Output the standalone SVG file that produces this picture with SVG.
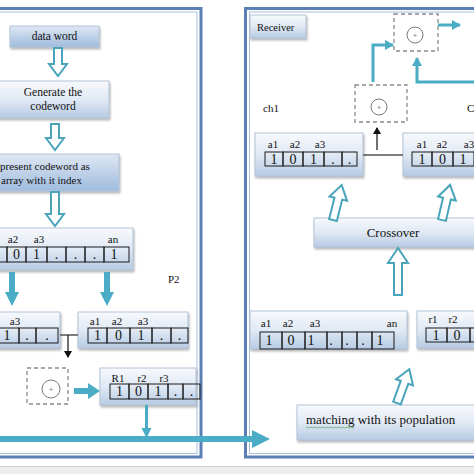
<svg xmlns="http://www.w3.org/2000/svg" width="474" height="474" viewBox="0 0 474 474">
<style>
.box{fill:url(#g);stroke:#b4c4da;stroke-width:1;filter:url(#sh)}
.boxd{fill:url(#g2);stroke:#b4c4da;stroke-width:1;filter:url(#sh)}
.t{font-family:"Liberation Serif",serif;fill:#111}
.lab{font-family:"Liberation Serif",serif;font-size:11px;fill:#111;text-anchor:middle}
.dig{font-family:"Liberation Serif",serif;font-size:14px;fill:#111;text-anchor:middle}
.cell{fill:none;stroke:#1a1a1a;stroke-width:1}
.hol{fill:#fff;stroke:#4aa5bb;stroke-width:2;stroke-linejoin:miter}
.sol{fill:#4bacc6}
.tl{fill:none;stroke:#4bacc6;stroke-width:3}
.dash{fill:none;stroke:#8a8a8a;stroke-width:1.3;stroke-dasharray:4 3}
.circ{fill:none;stroke:#7a7a7a;stroke-width:1}
.plus{font-family:"Liberation Sans",sans-serif;font-size:8px;fill:#888;text-anchor:middle}
.gl{stroke:#555;stroke-width:1.5;fill:none}
.bl{stroke:#111;stroke-width:1.2;fill:none}
</style>
<defs>
<linearGradient id="g" x1="0" y1="0" x2="0" y2="1"><stop offset="0" stop-color="#f7f9fc"/><stop offset="0.5" stop-color="#e1e9f4"/><stop offset="1" stop-color="#b6cbe4"/></linearGradient>
<linearGradient id="g2" x1="0" y1="0" x2="0" y2="1"><stop offset="0" stop-color="#dfe8f4"/><stop offset="1" stop-color="#9fbbdd"/></linearGradient>
<filter id="sh" x="-10%" y="-10%" width="120%" height="130%"><feDropShadow dx="1" dy="2" stdDeviation="1" flood-color="#888" flood-opacity="0.6"/></filter>
<marker id="ab" markerWidth="8" markerHeight="8" refX="6" refY="4" orient="auto" markerUnits="userSpaceOnUse"><path d="M0,0 L7,4 L0,8 Z" fill="#111"/></marker>
<marker id="at" markerWidth="10" markerHeight="10" refX="8" refY="5" orient="auto" markerUnits="userSpaceOnUse"><path d="M0,0 L9,5 L0,10 Z" fill="#4bacc6"/></marker>
<polygon id="up" points="-4,0 4,0 4,-22 9,-22 0,-36 -9,-22 -4,-22"/>
</defs>
<rect width="474" height="474" fill="#fff"/>
<rect x="0" y="466" width="474" height="8" fill="#eeeeee"/>
<line x1="0" y1="466.5" x2="474" y2="466.5" stroke="#cfcfcf"/>

<g id="panel-left">
<rect x="-10" y="8.5" width="211" height="448.5" fill="none" stroke="#5a7fb5" stroke-width="3"/>
<rect x="-10" y="12" width="207" height="441.5" fill="none" stroke="#a9bfdc" stroke-width="1"/>
</g>
<g id="panel-right">
<rect x="245.5" y="8.5" width="240" height="448.5" fill="none" stroke="#5a7fb5" stroke-width="3"/>
<rect x="249.5" y="12" width="240" height="441.5" fill="none" stroke="#a9bfdc" stroke-width="1"/>
</g>

<g id="data-word"><rect class="boxd" x="10" y="26" width="89" height="21"/><text class="t" x="54.5" y="40" font-size="11.5" text-anchor="middle">data word</text></g>
<g id="generate"><rect class="box" x="-2" y="81" width="111" height="37"/><text class="t" x="53" y="96" font-size="11.5" text-anchor="middle">Generate the</text><text class="t" x="53" y="110" font-size="11.5" text-anchor="middle">codeword</text></g>
<g id="represent"><rect class="boxd" x="-2" y="154" width="121" height="37"/><text class="t" x="0" y="170" font-size="11">present codeword as</text><text class="t" x="1" y="184" font-size="11">array with it index</text></g>

<g id="array-main"><rect class="box" x="-5" y="228" width="138" height="42"/>
<text class="lab" x="13" y="243">a2</text><text class="lab" x="39" y="243">a3</text><text class="lab" x="113" y="243">an</text>
<rect class="cell" x="-12" y="247" width="19" height="15"/><rect class="cell" x="7" y="247" width="19" height="15"/><rect class="cell" x="26" y="247" width="21" height="15"/><rect class="cell" x="47" y="247" width="19" height="15"/><rect class="cell" x="66" y="247" width="19" height="15"/><rect class="cell" x="85" y="247" width="19" height="15"/><rect class="cell" x="104" y="247" width="25" height="15"/>
<text class="dig" x="16.5" y="259">0</text><text class="dig" x="36.5" y="259">1</text><text class="dig" x="56.5" y="259">.</text><text class="dig" x="75.5" y="259">.</text><text class="dig" x="94.5" y="259">.</text><text class="dig" x="114" y="259">1</text></g>

<text class="t" x="168" y="283" font-size="11">P2</text>

<g id="array-left"><rect class="box" x="-5" y="312" width="65" height="36"/>
<text class="lab" x="15" y="325">a3</text>
<rect class="cell" x="-2" y="328" width="21" height="15"/><rect class="cell" x="19" y="328" width="17" height="15"/><rect class="cell" x="36" y="328" width="22" height="15"/>
<text class="dig" x="7" y="340">1</text><text class="dig" x="27" y="340">.</text><text class="dig" x="47" y="340">.</text></g>

<g id="array-right"><rect class="box" x="78" y="312" width="110" height="36"/>
<text class="lab" x="95" y="325">a1</text><text class="lab" x="117" y="325">a2</text><text class="lab" x="143" y="325">a3</text>
<rect class="cell" x="88" y="328" width="19" height="15"/><rect class="cell" x="107" y="328" width="23" height="15"/><rect class="cell" x="130" y="328" width="22" height="15"/><rect class="cell" x="152" y="328" width="19" height="15"/><rect class="cell" x="171" y="328" width="17" height="15"/>
<text class="dig" x="97.5" y="340">1</text><text class="dig" x="118.5" y="340">0</text><text class="dig" x="141" y="340">1</text><text class="dig" x="161.5" y="340">.</text><text class="dig" x="179.5" y="340">.</text></g>

<g id="xor-left"><rect class="dash" x="27" y="368" width="41" height="36"/><circle class="circ" cx="51" cy="389" r="9"/><text class="plus" x="51" y="392">+</text></g>

<g id="array-r"><rect class="box" x="100" y="368" width="96" height="37"/>
<text class="lab" x="118" y="382">R1</text><text class="lab" x="142" y="382">r2</text><text class="lab" x="164" y="382">r3</text>
<rect class="cell" x="110" y="384" width="19" height="15"/><rect class="cell" x="129" y="384" width="19" height="15"/><rect class="cell" x="148" y="384" width="20" height="15"/><rect class="cell" x="168" y="384" width="15" height="15"/><rect class="cell" x="183" y="384" width="17" height="15"/>
<text class="dig" x="119.5" y="396">1</text><text class="dig" x="138.5" y="396">0</text><text class="dig" x="158" y="396">1</text><text class="dig" x="175.5" y="396">.</text><text class="dig" x="191.5" y="396">.</text></g>

<g id="receiver"><rect class="box" x="250" y="15" width="56" height="23"/><text class="t" x="257" y="31" font-size="10.5">Receiver</text></g>
<g id="xor-top"><rect class="dash" x="394" y="14" width="44" height="37"/><circle class="circ" cx="415" cy="35" r="8"/><text class="plus" x="415" y="38">+</text></g>
<g id="xor-mid"><rect class="dash" x="355" y="85" width="52" height="37"/><circle class="circ" cx="379" cy="107" r="8"/><text class="plus" x="379" y="110">+</text></g>
<text class="t" x="263" y="112" font-size="11">ch1</text>
<text class="t" x="467" y="112" font-size="11">C</text>

<g id="array-ch1"><rect class="box" x="255" y="133" width="108" height="43"/>
<text class="lab" x="273" y="148">a1</text><text class="lab" x="295" y="148">a2</text><text class="lab" x="320" y="148">a3</text>
<rect class="cell" x="265" y="152" width="18" height="14"/><rect class="cell" x="283" y="152" width="20" height="14"/><rect class="cell" x="303" y="152" width="21" height="14"/><rect class="cell" x="324" y="152" width="18" height="14"/><rect class="cell" x="342" y="152" width="15" height="14"/>
<text class="dig" x="274" y="164">1</text><text class="dig" x="293" y="164">0</text><text class="dig" x="313.5" y="164">1</text><text class="dig" x="333" y="164">.</text><text class="dig" x="349.5" y="164">.</text></g>

<g id="array-ch2"><rect class="box" x="403" y="133" width="80" height="43"/>
<text class="lab" x="422" y="148">a1</text><text class="lab" x="442" y="148">a2</text><text class="lab" x="469" y="148">a3</text>
<rect class="cell" x="412" y="152" width="20" height="14"/><rect class="cell" x="432" y="152" width="21" height="14"/><rect class="cell" x="453" y="152" width="21" height="14"/>
<text class="dig" x="422" y="164">1</text><text class="dig" x="442.5" y="164">0</text><text class="dig" x="463" y="164">1</text></g>

<g id="crossover"><rect class="box" x="314" y="218" width="166" height="29"/><text class="t" x="393" y="237" font-size="13" text-anchor="middle">Crossover</text></g>

<g id="array-pop"><rect class="box" x="250" y="311" width="157" height="38"/>
<text class="lab" x="266" y="327">a1</text><text class="lab" x="288" y="327">a2</text><text class="lab" x="315" y="327">a3</text><text class="lab" x="392" y="327">an</text>
<rect class="cell" x="260" y="332" width="22" height="17"/><rect class="cell" x="282" y="332" width="23" height="17"/><rect class="cell" x="305" y="332" width="22" height="17"/><rect class="cell" x="327" y="332" width="15" height="17"/><rect class="cell" x="342" y="332" width="15" height="17"/><rect class="cell" x="357" y="332" width="15" height="17"/><rect class="cell" x="372" y="332" width="22" height="17"/>
<text class="dig" x="269" y="345">1</text><text class="dig" x="291" y="345">0</text><text class="dig" x="311" y="345">1</text><text class="dig" x="331" y="345">.</text><text class="dig" x="347" y="345">.</text><text class="dig" x="363" y="345">.</text><text class="dig" x="380" y="345">1</text></g>

<g id="array-r2"><rect class="box" x="417" y="311" width="63" height="37"/>
<text class="lab" x="433" y="323">r1</text><text class="lab" x="453" y="323">r2</text>
<rect class="cell" x="426" y="328" width="21" height="14"/><rect class="cell" x="447" y="328" width="23" height="14"/><rect class="cell" x="470" y="328" width="20" height="14"/>
<text class="dig" x="436" y="340">1</text><text class="dig" x="457" y="340">0</text></g>

<g id="matching"><rect class="box" x="297" y="405" width="183" height="35"/><text class="t" x="306" y="424" font-size="13">matching with its population</text>
<path d="M306,427.5 q1,-1 2,0 t2,0 t2,0 t2,0 t2,0 t2,0 t2,0 t2,0 t2,0 t2,0 t2,0 t2,0 t2,0 t2,0 t2,0 t2,0 t2,0 t2,0 t2,0 t2,0 t2,0 t2,0 t2,0 t2,0" fill="none" stroke="#3a9a3a" stroke-width="0.6"/></g>

<g id="connectors">
<polygon class="hol" points="54,48 62,48 62,64 67,64 58,76 49,64 54,64"/>
<polygon class="hol" points="51,124 59,124 59,138 64,138 55,150 46,138 51,138"/>
<polygon class="hol" points="51,192 59,192 59,214 64,214 55,226 46,214 51,214"/>
<polygon class="sol" points="9,272 15,272 15,292 19,292 12,306 5,292 9,292"/>
<polygon class="sol" points="104,272 110,272 110,292 114,292 107,306 100,292 104,292"/>
<line class="gl" x1="60" y1="335" x2="78" y2="335"/>
<line class="bl" x1="68" y1="335" x2="68" y2="357" marker-end="url(#ab)"/>
<polygon class="sol" points="74,388 88,388 88,383 100,391 88,399 88,394 74,394"/>
<polygon class="sol" points="145,405 148,405 148,428 151.5,428 146.5,438 141.5,428 145,428"/>
<polygon class="sol" points="0,436 252,436 252,430 270,439 252,448 252,442 0,442"/>
<line class="tl" x1="438" y1="25" x2="460" y2="25" marker-end="url(#at)"/>
<polyline class="tl" points="373,82 373,45 393,45" marker-end="url(#at)"/>
<polyline class="tl" points="476,82 417,82 417,58" marker-end="url(#at)"/>
<line class="gl" x1="363" y1="155" x2="403" y2="155"/>
<line class="bl" x1="377" y1="150" x2="377" y2="128" marker-end="url(#ab)"/>
<use href="#up" class="hol" transform="translate(333,220) rotate(14)"/>
<use href="#up" class="hol" transform="translate(442,220) rotate(13)"/>
<polygon class="hol" points="394,295 402,295 402,263 408,263 398,248 388,263 394,263"/>
<use href="#up" class="hol" transform="translate(397,403) rotate(20)"/>
</g>
</svg>
